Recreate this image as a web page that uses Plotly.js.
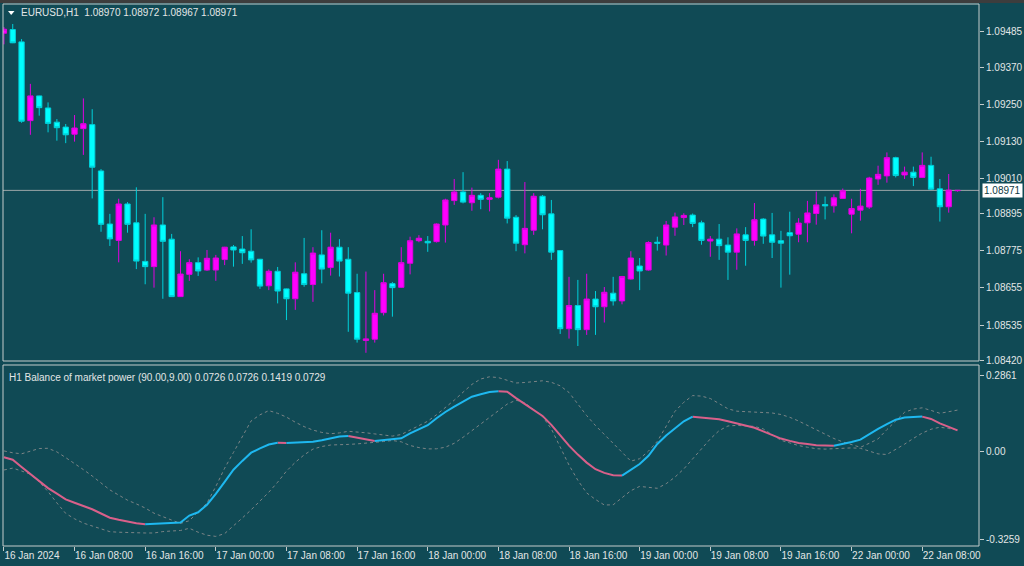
<!DOCTYPE html>
<html>
<head>
<meta charset="utf-8">
<script src="https://cdn.plot.ly/plotly-3.0.1.min.js"></script>
<style>
  html, body { margin: 0; padding: 0; background: #104a55; }
  #chart { width: 1024px; height: 566px; }
</style>
</head>
<body>
<div id="chart"></div>
<script>
// ---- DATA (EURUSD H1, 16 Jan 2024 00:00 .. 22 Jan 2024 12:00) ----
var xTickIdx = [0, 8, 16, 24, 32, 40, 48, 56, 64, 72, 80, 88, 96, 104];
var xTickLabels = ["16 Jan 2024", "16 Jan 08:00", "16 Jan 16:00", "17 Jan 00:00", "17 Jan 08:00",
  "17 Jan 16:00", "18 Jan 00:00", "18 Jan 08:00", "18 Jan 16:00", "19 Jan 00:00",
  "19 Jan 08:00", "19 Jan 16:00", "22 Jan 00:00", "22 Jan 08:00"];

var priceTicks = [1.09485, 1.09370, 1.09250, 1.09130, 1.09010, 1.08895, 1.08775, 1.08655, 1.08535, 1.08420];
var priceTickLabels = ["1.09485", "1.09370", "1.09250", "1.09130", "1.09010", "1.08895", "1.08775", "1.08655", "1.08535", "1.08420"];
var bopTicks = [0.2861, 0, -0.3259];
var bopTickLabels = ["0.2861", "0.00", "-0.3259"];

var open = [1.09480,1.09492,1.09452,1.09197,1.09277,1.09238,1.09192,1.09176,1.09153,1.09171,
  1.09184,1.09034,1.08862,1.08809,1.08927,1.08866,1.08741,1.08724,1.08859,1.08813,
  1.08627,1.08699,1.08737,1.08713,1.08713,1.08747,1.08788,1.08781,1.08774,1.08748,
  1.08662,1.08709,1.08652,1.08620,1.08701,1.08666,1.08762,1.08721,1.08787,1.08748,
  1.08640,1.08485,1.08489,1.08575,1.08669,1.08657,1.08735,1.08808,1.08806,1.08805,
  1.08859,1.08938,1.08966,1.08931,1.08955,1.08942,1.08949,1.09040,1.08884,1.08795,
  1.08842,1.08952,1.08895,1.08776,1.08523,1.08598,1.08520,1.08619,1.08594,1.08638,
  1.08613,1.08684,1.08726,1.08713,1.08803,1.08794,1.08852,1.08883,1.08891,1.08866,
  1.08807,1.08813,1.08794,1.08771,1.08827,1.08809,1.08878,1.08827,1.08808,1.08834,
  1.08829,1.08866,1.08896,1.08925,1.08921,1.08945,1.08894,1.08907,1.08917,1.09008,
  1.09018,1.09077,1.09021,1.09030,1.09013,1.09052,1.08976,1.08918,1.08970];
var high = [1.09500,1.09510,1.09461,1.09316,1.09278,1.09256,1.09202,1.09186,1.09215,1.09269,
  1.09234,1.09040,1.08895,1.08944,1.08933,1.08981,1.08895,1.08884,1.08949,1.08830,
  1.08774,1.08748,1.08754,1.08778,1.08762,1.08788,1.08794,1.08823,1.08845,1.08749,
  1.08715,1.08723,1.08653,1.08738,1.08817,1.08787,1.08842,1.08834,1.08813,1.08787,
  1.08701,1.08708,1.08648,1.08701,1.08674,1.08787,1.08821,1.08826,1.08823,1.08864,
  1.08944,1.09008,1.09030,1.08980,1.08962,1.08962,1.09070,1.09066,1.08891,1.08998,
  1.08962,1.08956,1.08940,1.08778,1.08691,1.08681,1.08701,1.08645,1.08658,1.08691,
  1.08694,1.08774,1.08752,1.08806,1.08821,1.08872,1.08899,1.08897,1.08896,1.08873,
  1.08823,1.08862,1.08819,1.08848,1.08852,1.08930,1.08881,1.08898,1.08840,1.08902,
  1.08881,1.08937,1.08967,1.08951,1.08958,1.08977,1.08944,1.08976,1.09015,1.09051,
  1.09094,1.09080,1.09048,1.09048,1.09094,1.09080,1.09008,1.09024,1.08972];
var low = [1.09444,1.09448,1.09190,1.09151,1.09213,1.09159,1.09132,1.09124,1.09129,1.09086,
  1.08945,1.08837,1.08791,1.08738,1.08834,1.08716,1.08667,1.08656,1.08620,1.08626,
  1.08626,1.08678,1.08694,1.08710,1.08678,1.08729,1.08724,1.08733,1.08737,1.08652,
  1.08648,1.08605,1.08551,1.08584,1.08659,1.08610,1.08670,1.08695,1.08692,1.08513,
  1.08478,1.08445,1.08478,1.08566,1.08562,1.08655,1.08699,1.08803,1.08772,1.08802,
  1.08802,1.08924,1.08929,1.08905,1.08910,1.08903,1.08945,1.08864,1.08774,1.08767,
  1.08827,1.08845,1.08746,1.08506,1.08491,1.08467,1.08503,1.08503,1.08543,1.08598,
  1.08602,1.08682,1.08648,1.08711,1.08776,1.08760,1.08824,1.08859,1.08852,1.08795,
  1.08756,1.08746,1.08681,1.08714,1.08727,1.08792,1.08798,1.08752,1.08656,1.08698,
  1.08803,1.08803,1.08860,1.08877,1.08899,1.08943,1.08832,1.08873,1.08911,1.08989,
  1.08996,1.09013,1.09008,1.08985,1.09012,1.08972,1.08870,1.08899,1.08967];
var close = [1.09493,1.09449,1.09195,1.09277,1.09239,1.09188,1.09174,1.09151,1.09173,1.09187,
  1.09046,1.08861,1.08814,1.08927,1.08861,1.08742,1.08724,1.08859,1.08806,1.08627,
  1.08700,1.08737,1.08710,1.08751,1.08752,1.08787,1.08778,1.08769,1.08746,1.08661,
  1.08709,1.08645,1.08620,1.08706,1.08666,1.08768,1.08716,1.08787,1.08742,1.08638,
  1.08489,1.08490,1.08573,1.08672,1.08656,1.08737,1.08808,1.08816,1.08801,1.08862,
  1.08940,1.08966,1.08933,1.08955,1.08942,1.08947,1.09040,1.08881,1.08800,1.08848,
  1.08952,1.08892,1.08771,1.08523,1.08598,1.08520,1.08619,1.08594,1.08641,1.08613,
  1.08692,1.08752,1.08710,1.08802,1.08800,1.08859,1.08885,1.08890,1.08864,1.08809,
  1.08813,1.08792,1.08771,1.08830,1.08809,1.08876,1.08823,1.08803,1.08800,1.08824,
  1.08865,1.08898,1.08924,1.08921,1.08947,1.08970,1.08912,1.08920,1.09011,1.09023,
  1.09077,1.09019,1.09030,1.09013,1.09052,1.08975,1.08918,1.08972,1.08971];

// Balance of market power: main line and the two dotted bands
var bop = [-0.0209,-0.0298,-0.0571,-0.0839,-0.1115,-0.1358,-0.1567,-0.1779,-0.1906,-0.2022,
  -0.2148,-0.2305,-0.2462,-0.2540,-0.2615,-0.2667,-0.2708,-0.2697,-0.2659,-0.2648,
  -0.2641,-0.2380,-0.2260,-0.1977,-0.1574,-0.1123,-0.0671,-0.0343,-0.0037,0.0127,
  0.0269,0.0336,0.0325,0.0339,0.0358,0.0369,0.0425,0.0500,0.0567,0.0586,
  0.0515,0.0444,0.0399,0.0433,0.0455,0.0500,0.0686,0.0839,0.0988,0.1246,
  0.1481,0.1679,0.1869,0.2052,0.2145,0.2223,0.2253,0.2238,0.1999,0.1783,
  0.1578,0.1335,0.1003,0.0619,0.0228,-0.0108,-0.0407,-0.0653,-0.0791,-0.0877,
  -0.0891,-0.0675,-0.0459,-0.0153,0.0287,0.0604,0.0865,0.1134,0.1306,0.1283,
  0.1250,0.1212,0.1138,0.1059,0.0977,0.0891,0.0757,0.0619,0.0489,0.0403,
  0.0325,0.0283,0.0239,0.0231,0.0224,0.0283,0.0362,0.0451,0.0656,0.0847,
  0.1029,0.1194,0.1276,0.1294,0.1309,0.1223,0.1059,0.0929,0.0798];
var bopUpper = [0.0030,-0.0041,-0.0078,0.0022,0.0119,0.0127,-0.0007,-0.0220,-0.0436,-0.0668,
  -0.0906,-0.1149,-0.1425,-0.1619,-0.1809,-0.1947,-0.2100,-0.2294,-0.2436,-0.2551,
  -0.2674,-0.2574,-0.2242,-0.1913,-0.1298,-0.0615,-0.0026,0.0586,0.1149,0.1376,
  0.1533,0.1432,0.1291,0.1100,0.0936,0.0806,0.0720,0.0671,0.0701,0.0761,
  0.0742,0.0705,0.0664,0.0623,0.0582,0.0642,0.0806,0.0974,0.1138,0.1380,
  0.1641,0.1921,0.2219,0.2510,0.2712,0.2794,0.2764,0.2663,0.2563,0.2581,
  0.2615,0.2645,0.2589,0.2458,0.2208,0.1787,0.1347,0.0974,0.0642,0.0306,
  -0.0022,-0.0351,-0.0261,0.0022,0.0388,0.0944,0.1507,0.1843,0.2093,0.2074,
  0.1984,0.1794,0.1600,0.1511,0.1485,0.1477,0.1462,0.1444,0.1388,0.1283,
  0.1145,0.0985,0.0821,0.0660,0.0492,0.0366,0.0254,0.0164,0.0313,0.0477,
  0.0824,0.1156,0.1470,0.1589,0.1637,0.1540,0.1432,0.1492,0.1552];
var bopLower = [-0.0683,-0.0612,-0.0720,-0.0839,-0.1123,-0.1488,-0.1910,-0.2301,-0.2503,-0.2663,
  -0.2771,-0.2876,-0.2984,-0.3003,-0.3021,-0.3032,-0.3032,-0.3032,-0.2980,-0.2958,
  -0.2939,-0.2857,-0.3003,-0.3115,-0.3159,-0.3055,-0.2779,-0.2473,-0.2167,-0.1839,
  -0.1511,-0.1138,-0.0724,-0.0395,-0.0119,0.0097,0.0194,0.0250,0.0250,0.0272,
  0.0291,0.0313,0.0343,0.0380,0.0418,0.0369,0.0231,0.0153,0.0104,0.0108,
  0.0168,0.0313,0.0537,0.0791,0.1044,0.1291,0.1529,0.1775,0.1921,0.1824,
  0.1570,0.1313,0.0847,0.0172,-0.0500,-0.1067,-0.1537,-0.1783,-0.1988,-0.1981,
  -0.1708,-0.1455,-0.1294,-0.1339,-0.1365,-0.1194,-0.0947,-0.0642,-0.0257,0.0123,
  0.0477,0.0787,0.0959,0.0981,0.0962,0.0944,0.0850,0.0630,0.0425,0.0328,
  0.0228,0.0168,0.0112,0.0097,0.0112,0.0127,0.0142,0.0127,0.0026,-0.0082,
  -0.0104,0.0075,0.0280,0.0496,0.0694,0.0839,0.0914,0.0865,0.0813];

var lastPrice = 1.08971;
var headerText = "EURUSD,H1\u00a0\u00a01.08970 1.08972 1.08967 1.08971";
var indText = "H1 Balance of market power (90.00,9.00) 0.0726 0.0726 0.1419 0.0729";

// ---- BUILD ----
var idx = open.map(function (_, i) { return i; });

// split main line into rising (blue) and falling (pink) runs
var upX = [], upY = [], dnX = [], dnY = [];
var runStart = 0, runDir = null;
function flush(endI) {
  var tx = runDir === 'up' ? upX : dnX, ty = runDir === 'up' ? upY : dnY;
  if (tx.length) { tx.push(null); ty.push(null); }
  for (var k = runStart; k <= endI; k++) { tx.push(idx[k]); ty.push(bop[k]); }
}
for (var i = 1; i < bop.length; i++) {
  var d = bop[i] >= bop[i - 1] ? 'up' : 'dn';
  if (runDir === null) { runDir = d; runStart = i - 1; }
  else if (d !== runDir) { flush(i - 1); runDir = d; runStart = i - 1; }
}
flush(bop.length - 1);

var font = "Liberation Sans, Arial, sans-serif";
var txtCol = "#e2e6e6";
var frameCol = "#c4cccc";

var traces = [
  {
    type: 'candlestick', x: idx, open: open, high: high, low: low, close: close,
    xaxis: 'x', yaxis: 'y', whiskerwidth: 0, hoverinfo: 'skip',
    increasing: { line: { color: '#e000e0', width: 1 }, fillcolor: '#ff00ff' },
    decreasing: { line: { color: '#00d0da', width: 1 }, fillcolor: '#00ffff' },
    showlegend: false
  },
  { type: 'scatter', mode: 'lines', x: idx, y: bopUpper, xaxis: 'x', yaxis: 'y2',
    line: { color: '#7b8486', width: 1, dash: '3px,3px' }, hoverinfo: 'skip', showlegend: false },
  { type: 'scatter', mode: 'lines', x: idx, y: bopLower, xaxis: 'x', yaxis: 'y2',
    line: { color: '#7b8486', width: 1, dash: '3px,3px' }, hoverinfo: 'skip', showlegend: false },
  { type: 'scatter', mode: 'lines', x: dnX, y: dnY, xaxis: 'x', yaxis: 'y2', connectgaps: false,
    line: { color: '#d9608a', width: 2 }, hoverinfo: 'skip', showlegend: false },
  { type: 'scatter', mode: 'lines', x: upX, y: upY, xaxis: 'x', yaxis: 'y2', connectgaps: false,
    line: { color: '#1eb8f0', width: 2 }, hoverinfo: 'skip', showlegend: false }
];

var H = 566, W = 1024, mL = 3, mR = 45, mT = 4, mB = 20;
var pw = W - mL - mR, ph = H - mT - mB;
function px2x(p) { return (p - mL) / pw; }
function px2y(p) { return (H - mB - p) / ph; }

var layout = {
  width: W, height: H,
  margin: { l: mL, r: mR, t: mT, b: mB, pad: 0 },
  paper_bgcolor: '#104a55', plot_bgcolor: '#104a55',
  showlegend: false,
  boxgap: 0.2, boxgroupgap: 0.25,
  font: { family: font, size: 10, color: txtCol },
  xaxis: {
    range: [-0.102, 110.43], anchor: 'y2', showgrid: false, zeroline: false, showline: false,
    tickmode: 'array', tickvals: xTickIdx, ticktext: xTickLabels,
    ticks: 'outside', ticklen: 4, tickwidth: 1, tickcolor: frameCol,
    ticklabelposition: 'outside right',
    tickfont: { family: font, size: 10, color: txtCol },
    rangeslider: { visible: false }, fixedrange: true
  },
  yaxis: {
    domain: [px2y(361), 1], range: [1.084184, 1.095747], side: 'right',
    showgrid: false, zeroline: false, showline: false,
    tickmode: 'array', tickvals: priceTicks, ticktext: priceTickLabels,
    ticks: 'outside', ticklen: 4, tickcolor: frameCol,
    tickfont: { family: font, size: 10, color: txtCol }, fixedrange: true
  },
  yaxis2: {
    domain: [0, px2y(365)], range: [-0.35174, 0.32339], side: 'right',
    showgrid: false, zeroline: false, showline: false,
    tickmode: 'array', tickvals: bopTicks, ticktext: bopTickLabels,
    ticks: 'outside', ticklen: 4, tickcolor: frameCol,
    tickfont: { family: font, size: 10, color: txtCol }, fixedrange: true
  },
  shapes: [
    // window strip at very top
    { type: 'rect', xref: 'paper', yref: 'paper', x0: px2x(-5), x1: px2x(1030), y0: px2y(3), y1: px2y(-2),
      fillcolor: '#3d3d3d', line: { width: 0 }, layer: 'above' },
    // current price line
    { type: 'line', xref: 'paper', yref: 'y', x0: 0, x1: 1, y0: lastPrice, y1: lastPrice,
      line: { color: '#9aa6a8', width: 1 }, layer: 'below' },
    // panel frames
    { type: 'rect', xref: 'paper', yref: 'y domain', x0: 0, x1: 1, y0: 0, y1: 1,
      line: { color: frameCol, width: 1 }, fillcolor: 'rgba(0,0,0,0)', layer: 'above' },
    { type: 'rect', xref: 'paper', yref: 'y2 domain', x0: 0, x1: 1, y0: 0, y1: 1,
      line: { color: frameCol, width: 1 }, fillcolor: 'rgba(0,0,0,0)', layer: 'above' },
    // header triangle
    { type: 'path', xref: 'paper', yref: 'paper',
      path: 'M ' + px2x(8) + ' ' + px2y(11) + ' L ' + px2x(14.5) + ' ' + px2y(11) + ' L ' + px2x(11.2) + ' ' + px2y(15) + ' Z',
      fillcolor: '#ffffff', line: { width: 0 } }
  ],
  annotations: [
    { xref: 'paper', yref: 'paper', x: px2x(19), y: px2y(13), xanchor: 'left', yanchor: 'middle',
      text: headerText, showarrow: false, font: { family: font, size: 10, color: txtCol } },
    { xref: 'paper', yref: 'paper', x: px2x(7), y: px2y(377), xanchor: 'left', yanchor: 'middle',
      text: indText, showarrow: false, font: { family: font, size: 10, color: txtCol } },
    { xref: 'paper', yref: 'y', x: px2x(982), y: lastPrice, xanchor: 'left', yanchor: 'middle',
      text: '1.08971', showarrow: false, bgcolor: '#ffffff', borderpad: 1,
      font: { family: font, size: 10, color: '#0e3a44' } }
  ]
};

Plotly.newPlot('chart', traces, layout, { staticPlot: true, displayModeBar: false });
</script>
</body>
</html>
